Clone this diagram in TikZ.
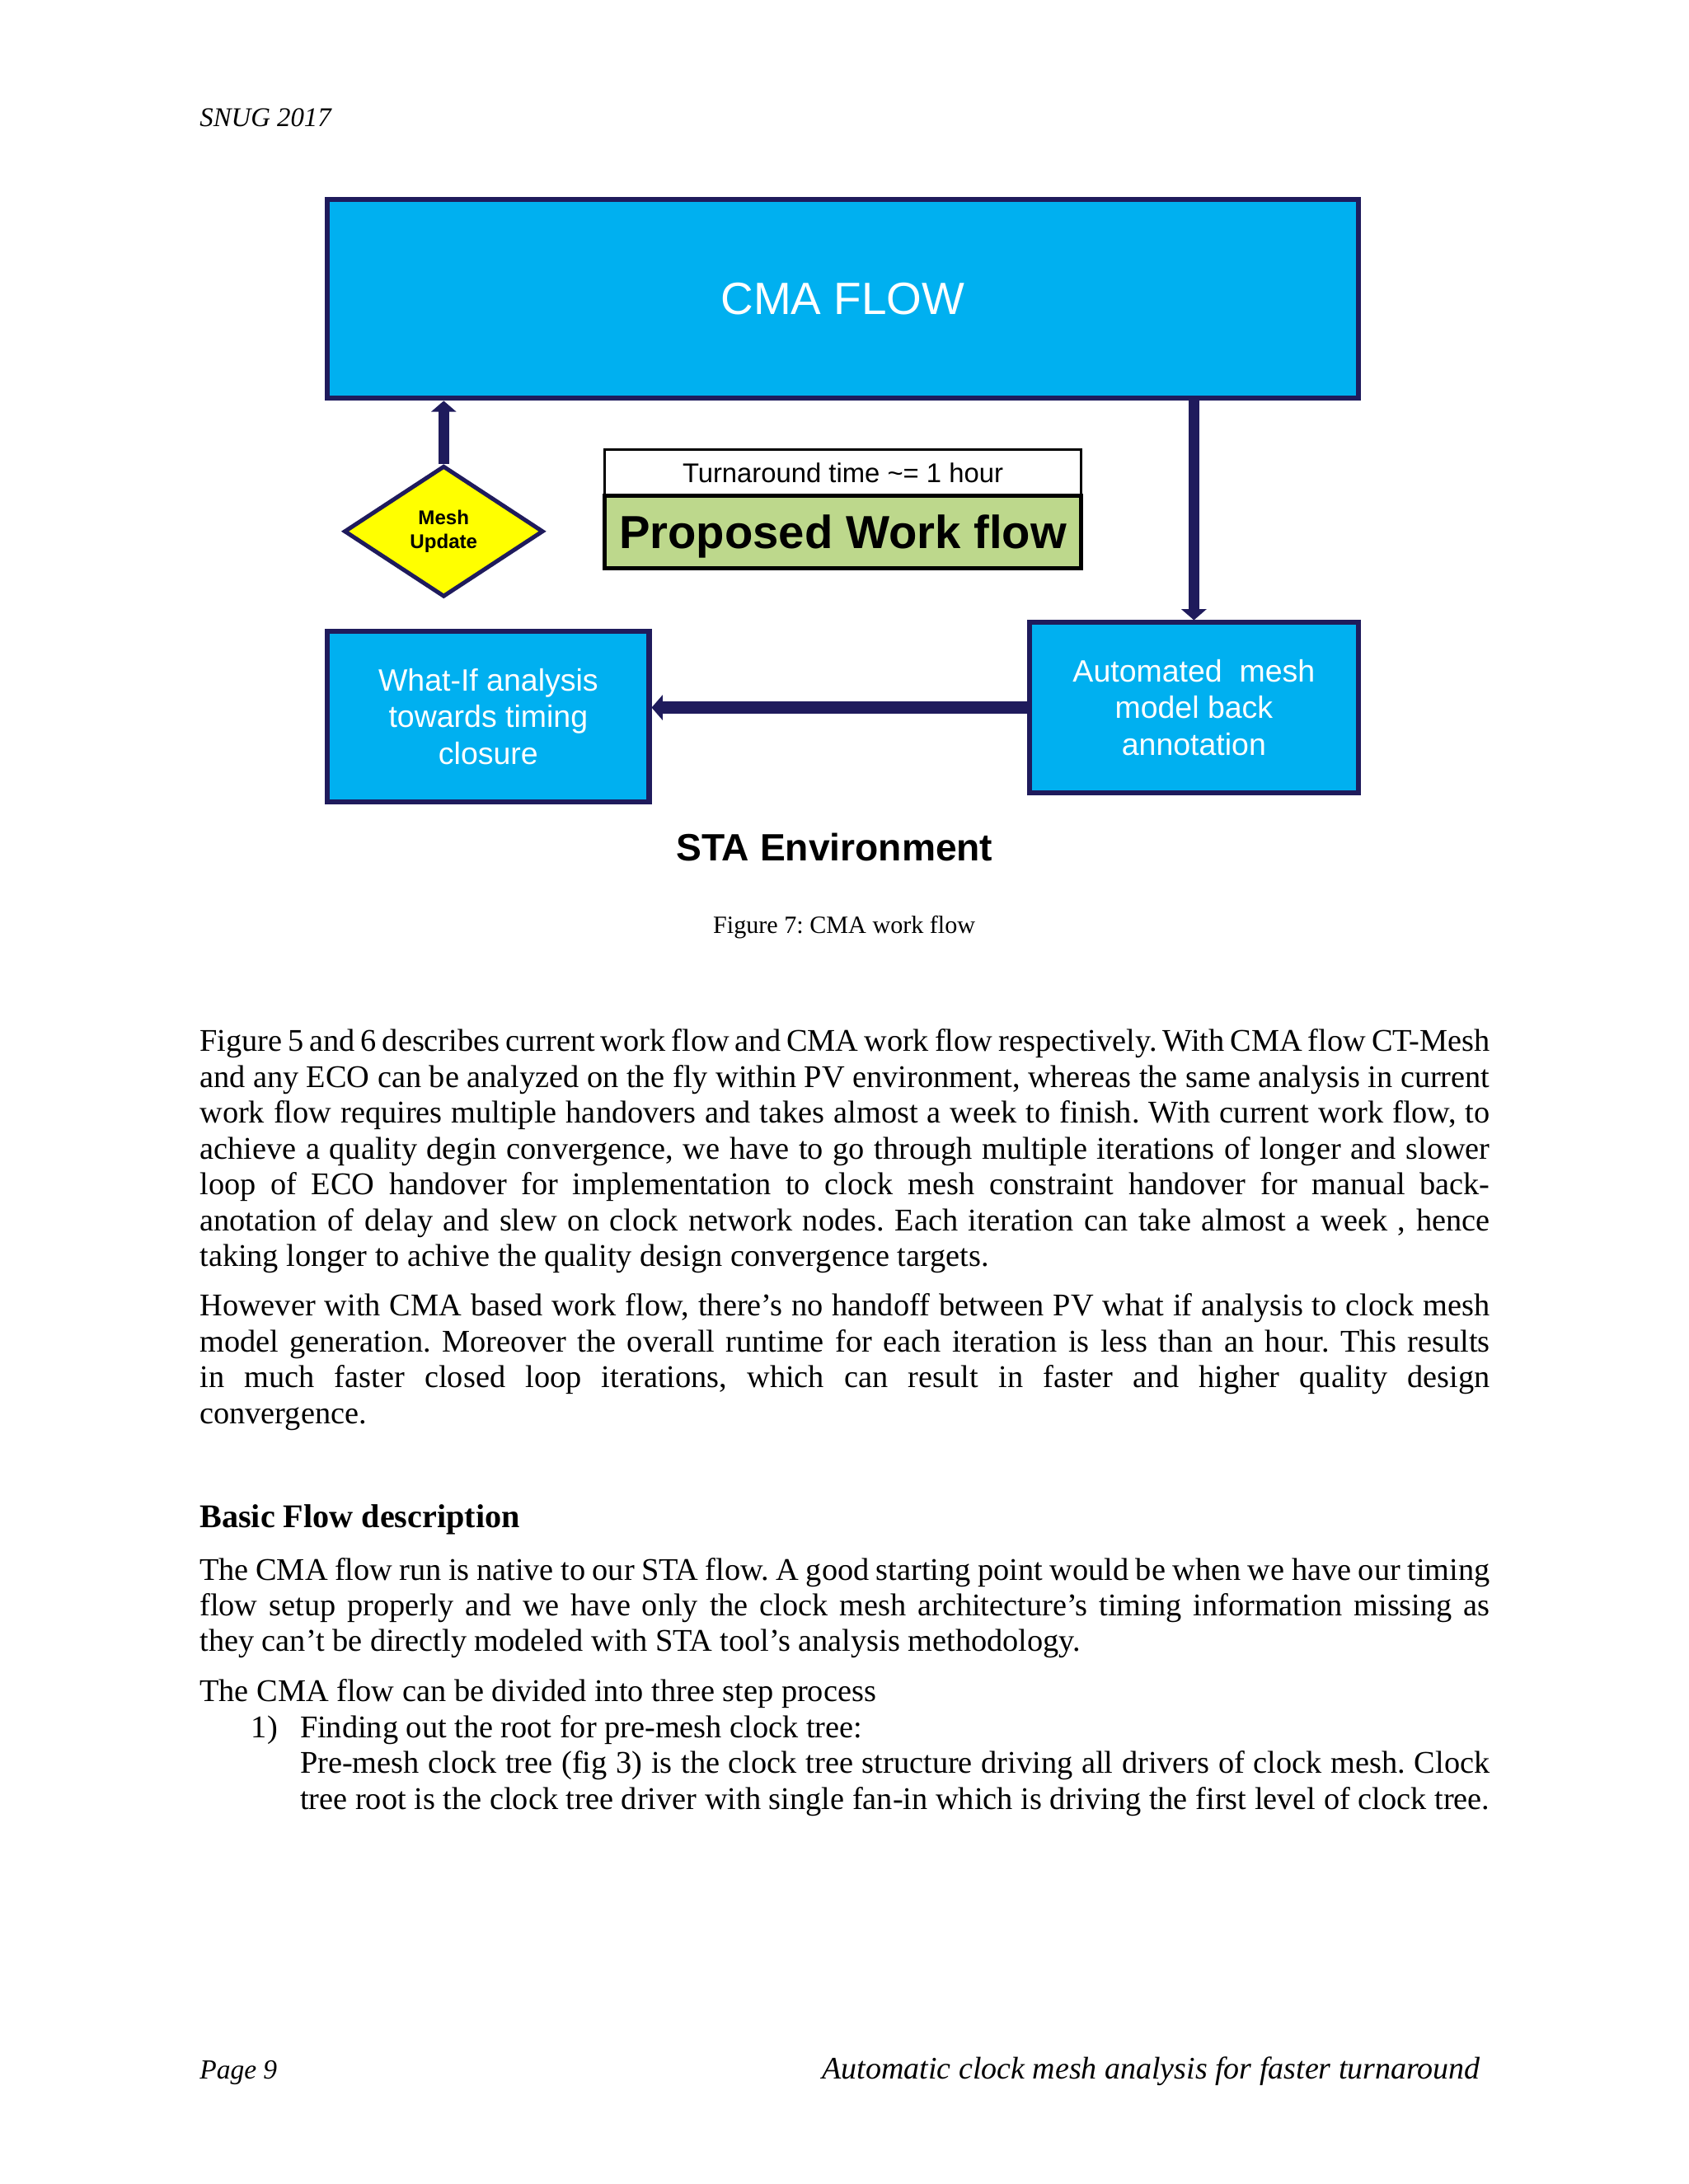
\documentclass[tikz,border=0pt]{standalone}
\usepackage{fontspec}
\setmainfont{Liberation Serif}
\newfontfamily\arialf{Liberation Sans}
\usetikzlibrary{shapes.geometric,arrows.meta}
\definecolor{cmablue}{HTML}{00B0F0}
\definecolor{navyc}{HTML}{1F1B5C}
\definecolor{pgreen}{HTML}{BDD88C}
\definecolor{myyellow}{HTML}{FFFF00}
\newcommand\jline[1]{\hbox to 467.6pt{#1}}
\newcommand\jlineb[1]{\hbox to 431.2pt{#1}}
\frenchspacing
\begin{document}
\begin{tikzpicture}[x=0.50495pt,y=-0.50495pt,
  bluebox/.style={draw=navyc,line width=1.8pt,fill=cmablue,text=white,
    font=\arialf\fontsize{11.2}{13.4}\selectfont,align=center,inner sep=0pt},
  flowarrow/.style={draw=navyc,line width=4pt,-{Triangle[width=9pt,length=4pt]}},
  bodyline/.style={anchor=base west,inner sep=0pt,font=\frenchspacing\fontsize{11.45}{13}\selectfont},
  headline/.style={anchor=base west,inner sep=0pt,font=\itshape\fontsize{9.8}{12}\selectfont},
 ]
\useasboundingbox (0,0) rectangle (1212,1568);
\fill[white] (0,0) rectangle (1212,1568);

% header
\node[headline] (hdr) at (143,91) {SNUG 2017};

% diagram
\node[bluebox,minimum width=373.7pt,minimum height=72.2pt,
  font=\arialf\fontsize{16.4}{19}\selectfont] (cma) at (605,214.5) {CMA FLOW};
\node[draw=navyc,line width=1.5pt,fill=myyellow,shape=diamond,inner sep=0pt,
  minimum width=72.2pt,minimum height=47.5pt,align=center,
  font=\arialf\bfseries\fontsize{7.2}{8.6}\selectfont] (mesh) at (318.5,381.5) {Mesh\\Update};
\node[draw=black,line width=0.8pt,fill=white,inner sep=0pt,
  minimum width=172.7pt,minimum height=16.7pt,
  font=\arialf\fontsize{9.8}{12}\selectfont] (turn) at (605,339.5) {Turnaround time \char`~= 1 hour};
\node[draw=black,line width=1.5pt,fill=pgreen,inner sep=0pt,text depth=0pt,
  minimum width=172.7pt,minimum height=26.3pt,
  font=\arialf\bfseries\fontsize{16.8}{19}\selectfont] (prop) at (605,382) {Proposed Work flow};
\node[bluebox,minimum width=116.6pt,minimum height=62.1pt] (whatif) at (350.5,514.5)
  {What-If analysis\\towards timing\\closure};
\node[bluebox,minimum width=119.2pt,minimum height=61.6pt] (auto) at (857,508)
  {Automated\ \ mesh\\model back\\annotation};

\draw[flowarrow] (mesh.north) -- (mesh.north |- cma.south);
\draw[flowarrow] (cma.south -| auto.north) -- (auto.north);
\draw[flowarrow,line width=4.7pt] (auto.west) -- (auto.west -| whatif.east);

\node[font=\arialf\bfseries\fontsize{13.8}{16}\selectfont,inner sep=0pt] (sta) at (599,608) {STA Environment};
\node[anchor=base,inner sep=0pt,font=\fontsize{9}{11}\selectfont] (cap) at (606,670) {Figure 7: CMA work flow};

% paragraph 1
\node[bodyline] (a1) at (143,755) {\jline{Figure 5 and 6 describes current work flow and CMA work flow respectively. With CMA flow CT-Mesh}};
\node[bodyline] (a2) at (143,780.7) {\jline{and any ECO can be analyzed on the fly within PV environment, whereas the same analysis in current}};
\node[bodyline] (a3) at (143,806.4) {\jline{work flow requires multiple handovers and takes almost a week to finish. With current work flow, to}};
\node[bodyline] (a4) at (143,832.1) {\jline{achieve a quality degin convergence, we have to go through multiple iterations of longer and slower}};
\node[bodyline] (a5) at (143,857.8) {\jline{loop of ECO handover for implementation to clock mesh constraint handover for manual back-}};
\node[bodyline] (a6) at (143,883.5) {\jline{anotation of delay and slew on clock network nodes. Each iteration can take almost a week , hence}};
\node[bodyline] (a7) at (143,909.2) {taking longer to achive the quality design convergence targets.};

% paragraph 2
\node[bodyline] (b1) at (143,944.9) {\jline{However with CMA based work flow, there’s no handoff between PV what if analysis to clock mesh}};
\node[bodyline] (b2) at (143,970.6) {\jline{model generation. Moreover the overall runtime for each iteration is less than an hour. This results}};
\node[bodyline] (b3) at (143,996.3) {\jline{in much faster closed loop iterations, which can result in faster and higher quality design}};
\node[bodyline] (b4) at (143,1022) {convergence.};

% heading
\node[anchor=base west,inner sep=0pt,font=\bfseries\fontsize{12}{14}\selectfont] (hd) at (143,1096.8) {Basic Flow description};

% paragraph 3
\node[bodyline] (c1) at (143,1134.3) {\jline{The CMA flow run is native to our STA flow. A good starting point would be when we have our timing}};
\node[bodyline] (c2) at (143,1160) {\jline{flow setup properly and we have only the clock mesh architecture’s timing information missing as}};
\node[bodyline] (c3) at (143,1185.7) {they can’t be directly modeled with STA tool’s analysis methodology.};

% paragraph 4
\node[bodyline] (d1) at (143,1221.5) {The CMA flow can be divided into three step process};
\node[bodyline] (d2n) at (180,1247.5) {1)};
\node[bodyline] (d2) at (215,1247.5) {Finding out the root for pre-mesh clock tree:};
\node[bodyline] (d3) at (215,1273.2) {\jlineb{Pre-mesh clock tree (fig 3) is the clock tree structure driving all drivers of clock mesh. Clock}};
\node[bodyline] (d4) at (215,1298.9) {\jlineb{tree root is the clock tree driver with single fan-in which is driving the first level of clock tree.}};

% footer
\node[headline,font=\itshape\fontsize{10}{12}\selectfont] (pg) at (143,1492.3) {Page 9};
\node[anchor=base east,inner sep=0pt,font=\itshape\fontsize{11.35}{13}\selectfont] (ft) at (1063,1492.3) {Automatic clock mesh analysis for faster turnaround};
\end{tikzpicture}
\end{document}
